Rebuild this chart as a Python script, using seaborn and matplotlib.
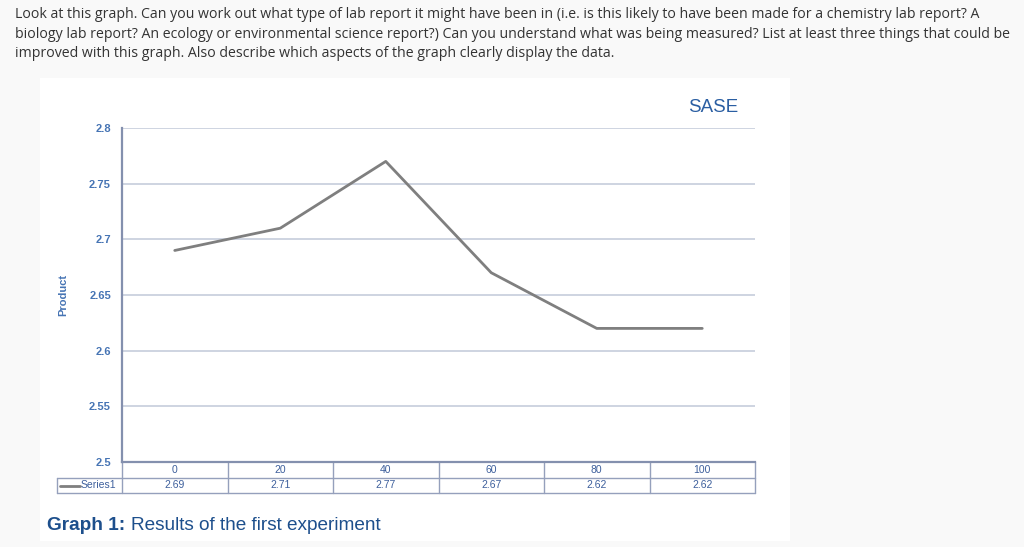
import matplotlib
matplotlib.use("Agg")
from matplotlib import pyplot as plt
import matplotlib.transforms as mtransforms
import pandas as pd
import seaborn as sns

# data
x_labels = ["0", "20", "40", "60", "80", "100"]
product = [2.69, 2.71, 2.77, 2.67, 2.62, 2.62]
y_ticks = [2.5, 2.55, 2.6, 2.65, 2.7, 2.75, 2.8]
series_name = "Series1"

question = ("Look at this graph. Can you work out what type of lab report it might have been in (i.e. is this likely to have been made for a chemistry lab report? A\n"
            "biology lab report? An ecology or environmental science report?) Can you understand what was being measured? List at least three things that could be\n"
            "improved with this graph. Also describe which aspects of the graph clearly display the data.")

df = pd.DataFrame({"x": x_labels, "Product": product})

sns.set_style("white")
plt.rcParams["font.family"] = ["Liberation Sans", "DejaVu Sans"]

W, H = 1024, 547
fig = plt.figure(figsize=(W / 100, H / 100), dpi=100)
fig.patch.set_facecolor("#f9f9f9")

def fx(px):
    return px / W

def fy(py):
    return 1 - py / H

# white card behind the chart
card = plt.Rectangle((fx(40), fy(541)), fx(790) - fx(40), fy(78) - fy(541),
                     transform=fig.transFigure, facecolor="white", edgecolor="none", zorder=-5)
fig.patches.append(card)

fig.text(fx(15), fy(7), question, ha="left", va="top", fontsize=10.2,
         family=["Open Sans", "DejaVu Sans"], color="#333333", linespacing=1.43)

ax = fig.add_axes([fx(122), fy(462), fx(755) - fx(122), fy(128) - fy(462)])
ax.set_zorder(2)
ax.set_facecolor("white")

blue = "#4674b4"
grid_c = "#c6cddc"
axis_c = "#8490ae"
table_txt = "#3d5f9c"

sns.lineplot(data=df, x="x", y="Product", ax=ax, color="#7f7f7f", linewidth=2.0, sort=False)
ax.set_xlim(-0.5, 5.5)
ax.set_ylim(2.5, 2.8)
ax.set_yticks(y_ticks)
ax.set_yticklabels([f"{v:g}" for v in y_ticks])
ax.yaxis.grid(True, color=grid_c, linewidth=1.2)
ax.set_axisbelow(True)
ax.set_xticks([])
ax.set_xlabel("")
ax.set_ylabel("Product", fontsize=8, fontweight="bold", color=blue, labelpad=15)
ax.tick_params(axis="y", colors=blue, labelsize=8, length=0, pad=8)
for lab in ax.get_yticklabels():
    lab.set_fontweight("bold")
for s in ["top", "right"]:
    ax.spines[s].set_visible(False)
for s in ["left", "bottom"]:
    ax.spines[s].set_color(axis_c)
    ax.spines[s].set_linewidth(1.6)

# data table below the axis
tr = mtransforms.blended_transform_factory(ax.transData, ax.transAxes)
r0, r1, r2 = 0.0, -16 / 334, -31 / 334
left_edge = -0.5 - 65 / 105.5
tc = "#95a0bc"
n = len(x_labels)
ax.plot([-0.5, n - 0.5], [r1, r1], color=tc, lw=1, transform=tr, clip_on=False)
ax.plot([left_edge, n - 0.5], [r2, r2], color=tc, lw=1, transform=tr, clip_on=False)
ax.plot([left_edge, -0.5], [r1, r1], color=tc, lw=1, transform=tr, clip_on=False)
ax.plot([left_edge, left_edge], [r1, r2], color=tc, lw=1, transform=tr, clip_on=False)
for i in range(n + 1):
    ax.plot([i - 0.5, i - 0.5], [r0, r2], color=tc, lw=1, transform=tr, clip_on=False)
for i, (lab, val) in enumerate(zip(x_labels, product)):
    ax.text(i, (r0 + r1) / 2, lab, transform=tr, ha="center", va="center",
            fontsize=7.5, color=table_txt, clip_on=False)
    ax.text(i, (r1 + r2) / 2, f"{val:.2f}", transform=tr, ha="center", va="center",
            fontsize=7.5, color=table_txt, clip_on=False)
lx0 = left_edge + 3 / 105.5
lx1 = lx0 + 20 / 105.5
ax.plot([lx0, lx1], [(r1 + r2) / 2] * 2, color="#7f7f7f", lw=2.0, transform=tr, clip_on=False)
ax.text(lx1 + 1 / 105.5, (r1 + r2) / 2, series_name, transform=tr, ha="left", va="center",
        fontsize=7.5, color=table_txt, clip_on=False)

fig.text(fx(713), fy(108), "SASE", ha="center", va="center", fontsize=13.5, color="#2a5ea2")

fig.text(fx(47), fy(525), "Graph 1:", ha="left", va="center", fontsize=13.7,
         fontweight="bold", color="#1d4f8c")
fig.text(fx(131), fy(525), "Results of the first experiment", ha="left", va="center",
         fontsize=13.7, color="#1d4f8c")

fig.savefig("out.png", dpi=100, facecolor=fig.get_facecolor())
